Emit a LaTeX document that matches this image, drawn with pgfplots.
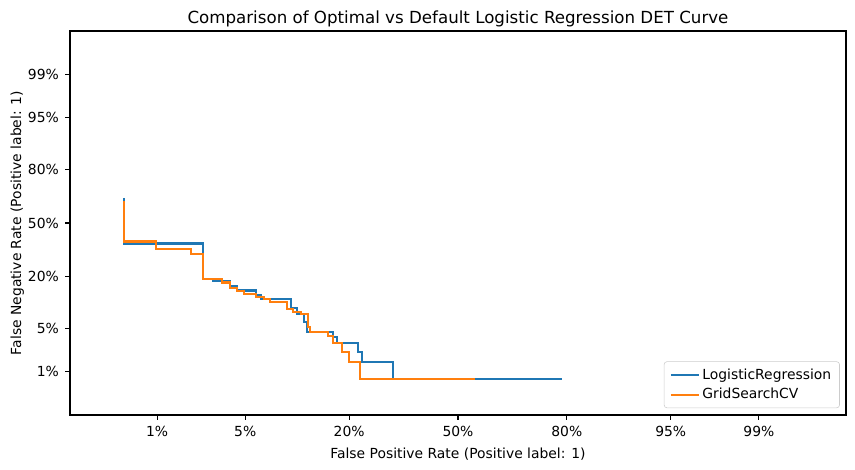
\documentclass[border=0pt]{standalone}
\usepackage{pgfplots}
\pgfplotsset{compat=1.18}
\usepackage{fontspec}
\setmainfont{DejaVu Sans}
\definecolor{tabblue}{HTML}{1F77B4}
\definecolor{taborange}{HTML}{FF7F0E}
\begin{document}
\begin{tikzpicture}
\begin{axis}[
  name=ax,
  scale only axis,
  width=558.7pt, height=276.5pt,
  xmin=-3, xmax=3, ymin=-3, ymax=3,
  axis line style={line width=0.8pt},
  tick style={line width=0.8pt, black},
  tick align=outside,
  major tick length=3.5pt,
  xtick={-2.3263,-1.6449,-0.8416,0,0.8416,1.6449,2.3263},
  ytick={-2.3263,-1.6449,-0.8416,0,0.8416,1.6449,2.3263},
  xticklabels={1\%,5\%,20\%,50\%,80\%,95\%,99\%},
  yticklabels={1\%,5\%,20\%,50\%,80\%,95\%,99\%},
  xtick pos=bottom, ytick pos=left,
  tick label style={font=\fontsize{10}{12}\selectfont},
  xticklabel style={yshift=-1pt},
  yticklabel style={xshift=-1pt},
  title={Comparison of Optimal vs Default Logistic Regression DET Curve},
  title style={font=\fontsize{12}{14}\selectfont, yshift=-6.3pt},
  xlabel={False Positive Rate (Positive label: 1)},
  ylabel={False Negative Rate (Positive label: 1)},
  label style={font=\fontsize{10}{12}\selectfont},
  xlabel style={yshift=-1.3pt},
  ylabel style={yshift=-4pt},
  legend style={at={(0.992,0.018)}, anchor=south east, draw=black!20, rounded corners=2pt,
    font=\fontsize{10}{12}\selectfont, row sep=1pt, inner xsep=4pt, inner ysep=3pt},
  legend cell align=left,
  legend image code/.code={\draw[#1, line width=1.5pt] (0pt,0pt) -- (20pt,0pt);},
]
\addplot[tabblue, line width=1.5pt] coordinates {
(-2.585,0.391) (-2.585,-0.320) (-1.974,-0.320) (-1.974,-0.870) (-1.892,-0.870) (-1.892,-0.902)
(-1.763,-0.902) (-1.763,-0.992) (-1.707,-0.992) (-1.707,-1.055) (-1.562,-1.055) (-1.562,-1.120)
(-1.521,-1.120) (-1.521,-1.192) (-1.294,-1.192) (-1.294,-1.333) (-1.245,-1.333) (-1.245,-1.427)
(-1.191,-1.427) (-1.191,-1.542) (-1.164,-1.542) (-1.164,-1.703) (-0.969,-1.703) (-0.969,-1.777)
(-0.933,-1.777) (-0.933,-1.880) (-0.771,-1.880) (-0.771,-2.011) (-0.745,-2.011) (-0.745,-2.167)
(-0.505,-2.167) (-0.505,-2.4375) (0.802,-2.4375)
};
\addlegendentry{LogisticRegression}
\addplot[taborange, line width=1.5pt] coordinates {
(-2.585,0.344) (-2.585,-0.289) (-2.337,-0.289) (-2.337,-0.411) (-2.064,-0.411) (-2.064,-0.489)
(-1.974,-0.489) (-1.974,-0.870) (-1.825,-0.870) (-1.825,-0.930) (-1.765,-0.930) (-1.765,-1.020)
(-1.709,-1.020) (-1.709,-1.0625) (-1.655,-1.0625) (-1.655,-1.114) (-1.562,-1.114) (-1.562,-1.161)
(-1.500,-1.161) (-1.500,-1.192) (-1.454,-1.192) (-1.454,-1.234) (-1.325,-1.234) (-1.325,-1.344)
(-1.273,-1.344) (-1.273,-1.386) (-1.216,-1.386) (-1.216,-1.427) (-1.162,-1.427) (-1.162,-1.620)
(-1.144,-1.620) (-1.144,-1.698) (-1.003,-1.698) (-1.003,-1.766) (-0.967,-1.766) (-0.967,-1.880)
(-0.897,-1.880) (-0.897,-2.011) (-0.840,-2.011) (-0.840,-2.172) (-0.758,-2.172) (-0.758,-2.4375)
(0.131,-2.4375)
};
\addlegendentry{GridSearchCV}
\end{axis}
\pgfresetboundingbox
\path ([xshift=-50.4pt,yshift=-39.6pt]ax.south west) rectangle ([xshift=6.5pt,yshift=22.3pt]ax.north east);
\end{tikzpicture}
\end{document}
